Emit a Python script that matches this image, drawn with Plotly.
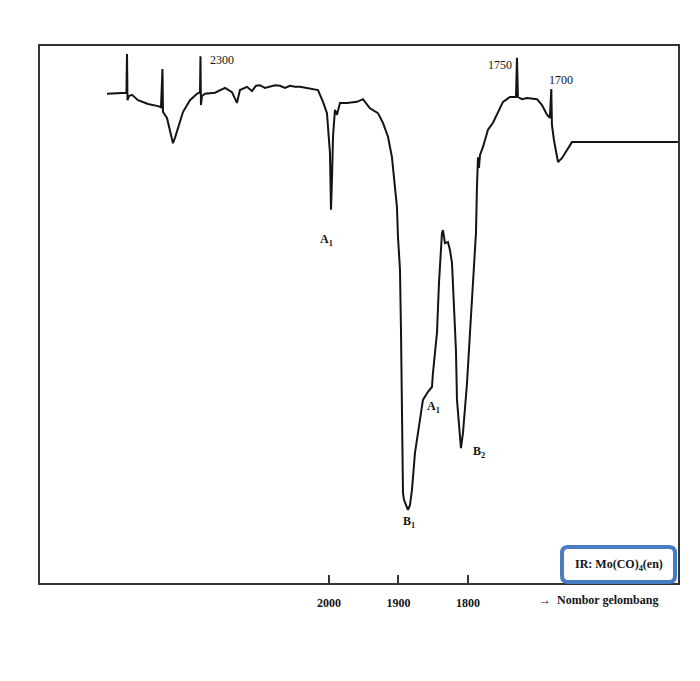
import plotly.graph_objects as go

# IR spectrum of Mo(CO)4(en): wavenumber (cm^-1) vs. relative transmittance (%)
wavenumber = [
    2319.4, 2293.5, 2291.4, 2290.6, 2289.9, 2287.8, 2283.4, 2274.8, 2260.4, 2246.0,
    2241.7, 2239.6, 2238.8, 2233.1, 2228.8, 2224.5, 2221.6, 2217.3, 2210.1, 2200.0,
    2189.9, 2185.6, 2184.9, 2184.2, 2182.7, 2178.4, 2164.0, 2149.6, 2139.6, 2132.4,
    2128.1, 2118.0, 2110.8, 2105.0, 2099.3, 2092.1, 2084.9, 2077.7, 2070.5, 2063.3,
    2056.1, 2048.9, 2041.7, 2034.5, 2027.3, 2015.8, 2008.6, 2002.9, 1998.6, 1997.1,
    1995.7, 1994.2, 1991.4, 1988.5, 1984.2, 1974.1, 1959.7, 1951.1, 1941.0, 1929.5,
    1922.3, 1915.1, 1909.4, 1906.5, 1902.2, 1900.7, 1897.8, 1896.4, 1895.0, 1893.5,
    1892.1, 1889.2, 1886.3, 1883.5, 1880.6, 1876.3, 1869.1, 1864.8, 1857.6, 1851.8,
    1850.4, 1844.6, 1841.7, 1837.4, 1836.0, 1833.1, 1828.8, 1825.9, 1823.0, 1820.2,
    1817.3, 1815.8, 1811.5, 1810.1, 1807.2, 1801.4, 1797.1, 1792.8, 1788.5, 1787.1,
    1785.6, 1784.2, 1782.7, 1778.4, 1771.2, 1764.0, 1756.8, 1749.6, 1739.6, 1730.9,
    1729.5, 1728.1, 1722.3, 1715.1, 1700.7, 1693.5, 1686.3, 1682.2, 1680.1, 1679.2,
    1676.3, 1670.5, 1664.8, 1657.6, 1650.4, 1497.9,
]
transmittance = [
    91.1, 91.3, 91.3, 98.5, 89.9, 90.7, 90.9, 89.9, 89.2, 88.8,
    88.6, 95.7, 87.7, 86.6, 84.4, 81.9, 82.9, 84.7, 87.7, 89.9,
    91.1, 91.4, 98.1, 89.0, 90.7, 91.1, 91.3, 92.2, 91.4, 89.4,
    91.8, 92.4, 91.6, 92.6, 92.7, 92.2, 92.4, 92.7, 92.6, 92.2,
    92.6, 92.4, 92.4, 92.2, 92.0, 91.8, 89.6, 87.5, 80.1, 69.5,
    75.0, 83.1, 88.1, 87.2, 89.4, 89.4, 89.6, 90.1, 88.4, 87.5,
    85.7, 83.1, 79.3, 75.6, 70.0, 64.4, 58.3, 47.1, 34.1, 16.8,
    15.5, 14.5, 13.6, 14.5, 17.3, 24.2, 30.9, 34.1, 35.6, 36.5,
    39.1, 46.6, 55.9, 65.2, 65.7, 63.3, 63.5, 62.0, 59.6, 52.7,
    43.4, 34.1, 26.6, 25.1, 27.9, 37.2, 46.6, 55.9, 65.2, 73.7,
    79.3, 77.3, 79.7, 81.2, 84.4, 85.7, 87.7, 89.6, 90.5, 90.5,
    97.8, 90.5, 90.1, 90.3, 90.1, 89.0, 87.2, 86.6, 92.0, 85.3,
    82.5, 78.4, 79.1, 80.6, 82.1, 82.1,
]
tick_values = [2000, 1900, 1800]
tick_labels = ["2000", "1900", "1800"]

SERIF = "Liberation Serif, Times New Roman, serif"
INK = "#141414"

fig = go.Figure()
fig.add_trace(go.Scatter(
    x=wavenumber, y=transmittance, mode="lines",
    line=dict(color=INK, width=2), hoverinfo="skip", showlegend=False,
))

fig.update_layout(
    width=700, height=681,
    margin=dict(l=32, r=30, t=38, b=106),
    paper_bgcolor="white", plot_bgcolor="white",
    xaxis=dict(
        range=[2415.8, 1497.8], showgrid=False, zeroline=False,
        showline=True, mirror=True, linecolor="#333333", linewidth=2,
        tickmode="array", tickvals=tick_values,
        ticktext=[f"<b>{t}</b>" for t in tick_labels],
        ticks="inside", ticklen=8, tickwidth=2, tickcolor="#333333",
        ticklabelstandoff=8,
        tickfont=dict(family=SERIF, size=12, color=INK),
    ),
    yaxis=dict(
        range=[0, 100], showgrid=False, zeroline=False,
        showline=True, mirror=True, linecolor="#333333", linewidth=2,
        showticklabels=False, ticks="",
    ),
)

labels = [
    ("<b>A<sub>1</sub></b>", 2002.9, 63.9),
    ("<b>B<sub>1</sub></b>", 1884.9, 11.4),
    ("<b>A<sub>1</sub></b>", 1848.9, 32.8),
    ("<b>B<sub>2</sub></b>", 1784.2, 24.4),
    ("2300", 2153.9, 97.4),
    ("1750", 1754.0, 96.5),
    ("1700", 1666.2, 93.7),
]
for txt, xv, yv in labels:
    fig.add_annotation(x=xv, y=yv, text=txt, showarrow=False,
                       xanchor="center", yanchor="middle",
                       font=dict(family=SERIF, size=12, color=INK))

fig.add_annotation(
    xref="paper", yref="paper", x=0.779, y=-0.032, xanchor="left", yanchor="middle",
    text="<b>→  Nombor gelombang</b>", showarrow=False,
    font=dict(family=SERIF, size=12, color=INK),
)

# rounded blue label box in the lower-right corner
x0, x1 = 0.8182, 0.9953
y0, y1 = 0.0019, 0.0670
rx, ry = 0.0094, 0.0112
path = (
    f"M {x0+rx},{y0} L {x1-rx},{y0} Q {x1},{y0} {x1},{y0+ry} "
    f"L {x1},{y1-ry} Q {x1},{y1} {x1-rx},{y1} "
    f"L {x0+rx},{y1} Q {x0},{y1} {x0},{y1-ry} "
    f"L {x0},{y0+ry} Q {x0},{y0} {x0+rx},{y0} Z"
)
fig.add_shape(type="path", xref="paper", yref="paper", path=path,
              line=dict(color="#4a7cc4", width=4), fillcolor="white", layer="above")
fig.add_annotation(
    xref="paper", yref="paper", x=(x0 + x1) / 2, y=(y0 + y1) / 2,
    xanchor="center", yanchor="middle",
    text="<b>IR: Mo(CO)<sub>4</sub>(en)</b>", showarrow=False,
    font=dict(family=SERIF, size=12, color=INK),
)

fig.write_html("out.html")
